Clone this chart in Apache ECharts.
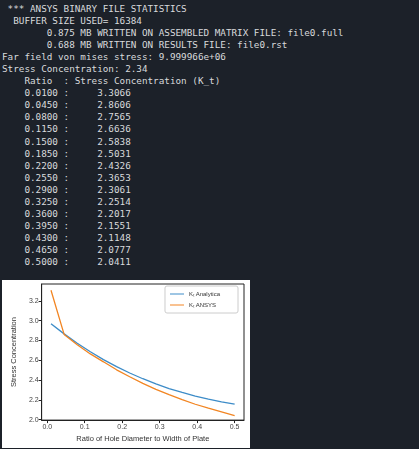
<!DOCTYPE html>
<html><head><meta charset="utf-8">
<script src="https://cdn.jsdelivr.net/npm/echarts@6/dist/echarts.min.js"></script>
<style>
body{margin:0;background:#1c2129;width:419px;height:449px;overflow:hidden;position:relative}
pre{margin:0;position:absolute;left:2px;top:3px;color:#d8dadc;font:9.3px/12.05px "DejaVu Sans Mono",monospace}
#chart{position:absolute;left:2px;top:280px;width:248px;height:168px;background:#fff}
</style></head><body>
<pre id="log"></pre>
<div id="chart"></div>
<script>
const ratios = [0.01,0.045,0.08,0.115,0.15,0.185,0.22,0.255,0.29,0.325,0.36,0.395,0.43,0.465,0.5];
const ktAnsys = [3.3066,2.8606,2.7565,2.6636,2.5838,2.5031,2.4326,2.3653,2.3061,2.2514,2.2017,2.1551,2.1148,2.0777,2.0411];
const ktAnalytic = [2.969,2.866,2.771,2.685,2.606,2.535,2.471,2.413,2.361,2.314,2.274,2.238,2.206,2.179,2.156];
const xTicks = [0, 0.1, 0.2, 0.3, 0.4, 0.5];
const yTicks = [2.0, 2.2, 2.4, 2.6, 2.8, 3.0, 3.2];
const headerLines = [
  ' *** ANSYS BINARY FILE STATISTICS',
  '  BUFFER SIZE USED= 16384',
  '        0.875 MB WRITTEN ON ASSEMBLED MATRIX FILE: file0.full',
  '        0.688 MB WRITTEN ON RESULTS FILE: file0.rst',
  'Far field von mises stress: 9.999966e+06',
  'Stress Concentration: 2.34',
  '    Ratio  : Stress Concentration (K_t)'
];

let lines = headerLines.slice();
ratios.forEach((r, i) => {
  lines.push('    ' + r.toFixed(4) + ' :     ' + ktAnsys[i].toFixed(4));
});
document.getElementById('log').textContent = lines.join('\n');

let chart = echarts.init(document.getElementById('chart'));
function axis(ticks, extra) {
  return Object.assign({
    type: 'value',
    axisLine: {show: true, onZero: false, lineStyle: {color: '#222', width: 1}},
    axisTick: {show: true, length: 3, customValues: ticks, lineStyle: {color: '#222'}},
    axisLabel: {color: '#444', fontSize: 7, margin: 3, customValues: ticks, formatter: v => v.toFixed(1)},
    splitLine: {show: false},
    nameLocation: 'middle',
    nameTextStyle: {color: '#333', fontSize: 7.5}
  }, extra);
}
chart.setOption({
  animation: false,
  grid: {left: 28, right: 6, top: 4, bottom: 24, show: true, borderColor: '#222', borderWidth: 1},
  legend: {
    right: 12, top: 6, orient: 'vertical', itemWidth: 14, itemHeight: 1, itemGap: 5,
    borderColor: '#ccc', borderWidth: 1, borderRadius: 2, padding: [5, 18, 5, 5],
    textStyle: {fontSize: 6, color: '#333'},
    data: [{name: 'K\u209c Analytica', icon: 'rect'}, {name: 'K\u209c ANSYS', icon: 'rect'}]
  },
  xAxis: axis(xTicks, {min: -0.015, max: 0.525, name: 'Ratio of Hole Diameter to Width of Plate', nameGap: 12}),
  yAxis: axis(yTicks, {min: 1.995, max: 3.37, name: 'Stress Concentration', nameGap: 18}),
  series: [
    {name: 'K\u209c Analytica', type: 'line', showSymbol: false, color: '#3d8cc8',
      lineStyle: {width: 1.3}, data: ratios.map((r, i) => [r, ktAnalytic[i]])},
    {name: 'K\u209c ANSYS', type: 'line', showSymbol: false, color: '#f28522',
      lineStyle: {width: 1.3}, data: ratios.map((r, i) => [r, ktAnsys[i]])}
  ]
});
</script>
</body></html>
